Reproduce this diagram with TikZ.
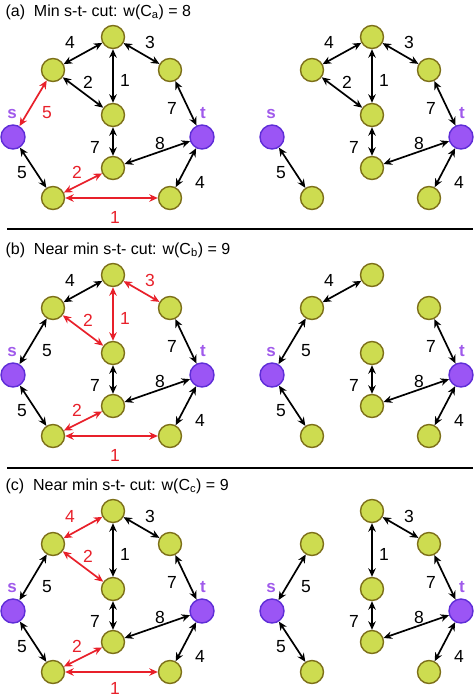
\documentclass[tikz,border=0pt]{standalone}
\usepackage{fontspec}
\setmainfont{Liberation Sans}
\usetikzlibrary{arrows.meta}

\definecolor{vfill}{RGB}{205,220,80}
\definecolor{vline}{RGB}{125,112,25}
\definecolor{tfill}{RGB}{155,85,245}
\definecolor{tline}{RGB}{95,45,215}
\definecolor{tlab}{RGB}{160,90,235}
\definecolor{cutred}{RGB}{232,32,42}

\begin{document}
\begin{tikzpicture}[x=1pt, y=-1pt, >={Stealth[length=8.5pt,width=7.5pt]},
    vtx/.style={circle, draw=vline, fill=vfill, line width=1.4pt, minimum size=23pt, inner sep=0pt},
    term/.style={circle, draw=tline, fill=tfill, line width=1.4pt, minimum size=24pt, inner sep=0pt},
    stlab/.style={anchor=base, text=tlab, font=\fontsize{17}{20}\selectfont\bfseries},
    link/.style={<->, line width=1.7pt},
    wt/.style={font=\fontsize{17.5}{20}\selectfont},
    title/.style={anchor=base west, font=\fontsize{16}{18}\selectfont}]
    \useasboundingbox (0,0) rectangle (474,697);

    % Titles
    \node[title] (ta) at (2,16) {(a)\ \ Min s-t- cut: w(C\textsubscript{a}) = 8};
    \node[title] (tb) at (2,254) {(b)\ \ Near min s-t- cut: w(C\textsubscript{b}) = 9};
    \node[title] (tc) at (2,490) {(c)\ \ Near min s-t- cut: w(C\textsubscript{c}) = 9};

    % Separators
    \coordinate (sepal) at (7,229);
    \coordinate (separ) at (473,229);
    \coordinate (sepbl) at (7,468);
    \coordinate (sepbr) at (473,468);
    \draw[line width=1.6pt] (sepal) -- (separ);
    \draw[line width=1.6pt] (sepbl) -- (sepbr);

    % Graphs
    \foreach \p/\dx/\dy in {aL/0/0, aR/259/0, bL/0/238, bR/259/238, cL/0/474, cR/259/474} {
        \begin{scope}[shift={(\dx,\dy)}]
            \node[vtx] (\p top) at (113,37) {};
            \node[vtx] (\p ul) at (53,70) {};
            \node[vtx] (\p ur) at (170,70) {};
            \node[vtx] (\p mid) at (113,115) {};
            \node[vtx] (\p low) at (113,168) {};
            \node[vtx] (\p bl) at (53,198) {};
            \node[vtx] (\p br) at (170,198) {};
            \node[term] (\p s) at (13,137) {};
            \node[term] (\p t) at (202,137) {};
            \node[stlab] (\p ls) at (12,118) {s};
            \node[stlab] (\p lt) at (203,118) {t};
        \end{scope}
    }

    % (a) min cut
    \foreach \u/\v/\w/\lx/\ly/\c in {top/ul/4/70/42/black, top/ur/3/150/42/black, top/mid/1/125/80/black,
        ul/mid/2/88/82/black, s/ul/5/47/113/cutred, ur/t/7/172/108/black, mid/low/7/95/147/black,
        low/t/8/160/143/black, s/bl/5/22/173/black, bl/low/2/77/172/cutred, t/br/4/200/182/black,
        bl/br/1/115/217/cutred} {
        \draw[link, \c] (aL\u) -- (aL\v);
        \node[wt, text=\c] (aLw\u\v) at (\lx,\ly) {\w};
    }
    \begin{scope}[shift={(259,0)}]
        \foreach \u/\v/\w/\lx/\ly in {top/ul/4/70/42, top/ur/3/150/42, top/mid/1/125/80,
            ul/mid/2/88/82, ur/t/7/172/108, mid/low/7/95/147, low/t/8/160/143,
            s/bl/5/22/173, t/br/4/200/182} {
            \draw[link] (aR\u) -- (aR\v);
            \node[wt] (aRw\u\v) at (\lx,\ly) {\w};
        }
    \end{scope}

    % (b) near min cut
    \begin{scope}[shift={(0,238)}]
        \foreach \u/\v/\w/\lx/\ly/\c in {top/ul/4/70/42/black, top/ur/3/150/42/cutred, top/mid/1/125/80/cutred,
            ul/mid/2/88/82/cutred, s/ul/5/47/113/black, ur/t/7/172/108/black, mid/low/7/95/147/black,
            low/t/8/160/143/black, s/bl/5/22/173/black, bl/low/2/77/172/cutred, t/br/4/200/182/black,
            bl/br/1/115/217/cutred} {
            \draw[link, \c] (bL\u) -- (bL\v);
            \node[wt, text=\c] (bLw\u\v) at (\lx,\ly) {\w};
        }
    \end{scope}
    \begin{scope}[shift={(259,238)}]
        \foreach \u/\v/\w/\lx/\ly in {top/ul/4/70/42, s/ul/5/47/113, ur/t/7/172/108, mid/low/7/95/147,
            low/t/8/160/143, s/bl/5/22/173, t/br/4/200/182} {
            \draw[link] (bR\u) -- (bR\v);
            \node[wt] (bRw\u\v) at (\lx,\ly) {\w};
        }
    \end{scope}

    % (c) near min cut
    \begin{scope}[shift={(0,474)}]
        \foreach \u/\v/\w/\lx/\ly/\c in {top/ul/4/70/42/cutred, top/ur/3/150/42/black, top/mid/1/125/80/black,
            ul/mid/2/88/82/cutred, s/ul/5/47/113/black, ur/t/7/172/108/black, mid/low/7/95/147/black,
            low/t/8/160/143/black, s/bl/5/22/173/black, bl/low/2/77/172/cutred, t/br/4/200/182/black,
            bl/br/1/115/214/cutred} {
            \draw[link, \c] (cL\u) -- (cL\v);
            \node[wt, text=\c] (cLw\u\v) at (\lx,\ly) {\w};
        }
    \end{scope}
    \begin{scope}[shift={(259,474)}]
        \foreach \u/\v/\w/\lx/\ly in {top/ur/3/150/42, top/mid/1/125/80, s/ul/5/47/113, ur/t/7/172/108,
            mid/low/7/95/147, low/t/8/160/143, s/bl/5/22/173, t/br/4/200/182} {
            \draw[link] (cR\u) -- (cR\v);
            \node[wt] (cRw\u\v) at (\lx,\ly) {\w};
        }
    \end{scope}
\end{tikzpicture}
\end{document}
